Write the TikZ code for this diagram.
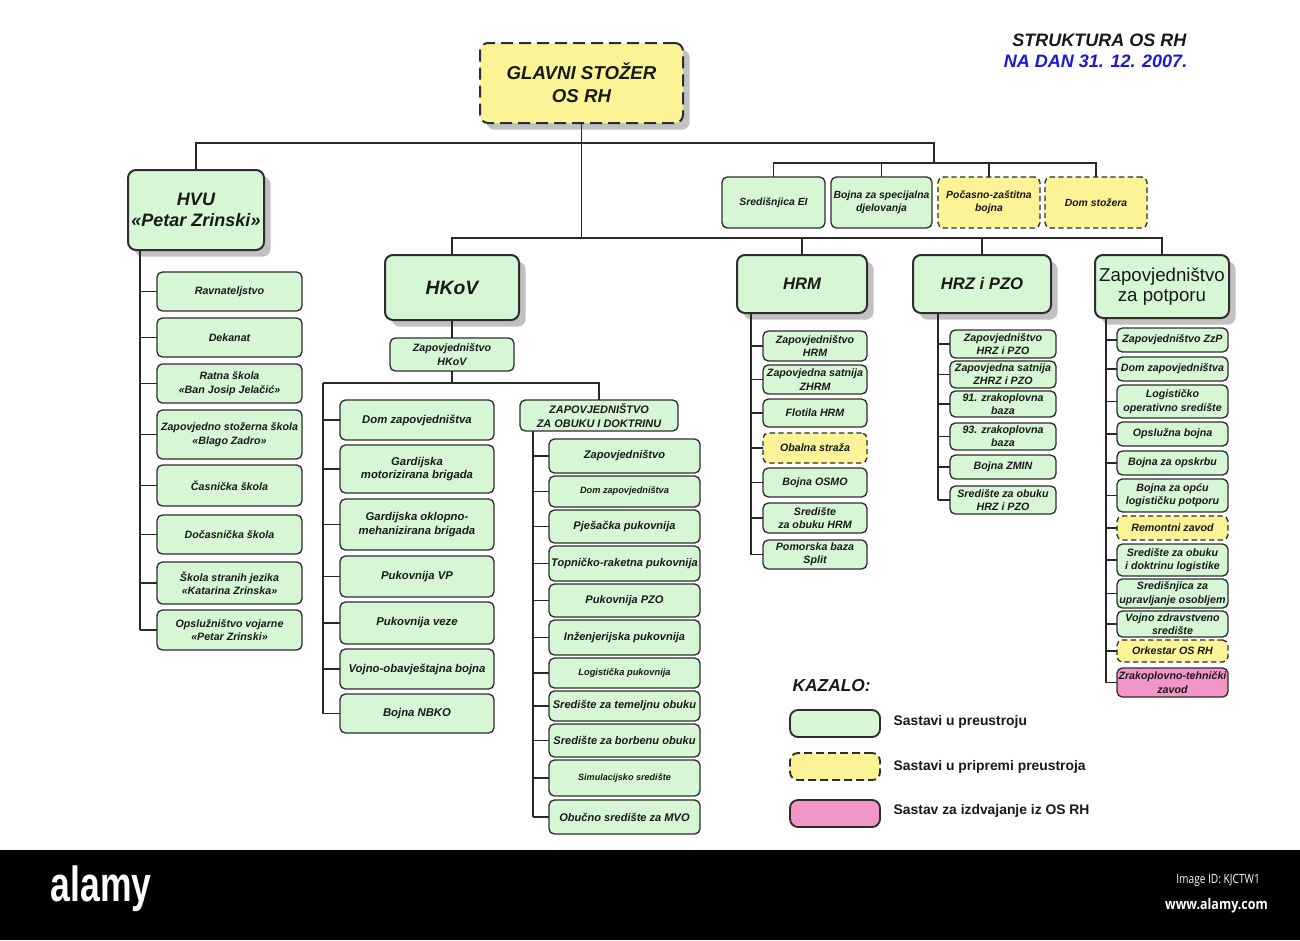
\documentclass[tikz,border=0pt]{standalone}
\usepackage{fontspec}
\setmainfont{Liberation Sans}
\newfontfamily\opensans{Open Sans}
\usetikzlibrary{shadows}
\definecolor{gfill}{RGB}{214,246,214}
\definecolor{yfill}{RGB}{250,244,150}
\definecolor{pfill}{RGB}{242,150,200}
\definecolor{bdc}{RGB}{45,45,45}
\definecolor{lnc}{RGB}{40,40,40}
\definecolor{txc}{RGB}{25,25,25}
\definecolor{tblue}{RGB}{25,25,215}
\newcommand{\obox}[7]{\node[#6, minimum width={(#4-#2)*0.75pt}, minimum height={(#5-#3)*0.75pt}] (#1) at ({(#2+#4)/2},{(#3+#5)/2}) {#7};}
\newcommand{\fsz}[1]{\bfseries\itshape\fontsize{#1}{10}\selectfont}
\tikzset{
 conn/.style={draw=lnc, line width=0.9pt},
 sbox/.style={draw=bdc, fill=gfill, rounded corners=4pt, line width=1pt, align=center, inner sep=1pt, outer sep=0pt, text=txc, font=\bfseries\itshape\fontsize{8}{10}\selectfont},
 sy/.style={sbox, fill=yfill, dash pattern=on 4pt off 2.5pt},
 sp/.style={sbox, fill=pfill},
 shad/.style={drop shadow={shadow xshift=5pt, shadow yshift=-5pt, fill=black!30, opacity=0.8}},
 bigbox/.style={sbox, line width=1.5pt, rounded corners=6pt, shad, font=\bfseries\itshape\fontsize{12}{14}\selectfont},
 bigy/.style={bigbox, fill=yfill, dash pattern=on 9pt off 4.5pt},
 legbox/.style={draw=bdc, fill=gfill, rounded corners=6pt, line width=1.4pt, outer sep=0pt},
 legtext/.style={anchor=west, text=txc, font=\bfseries\fontsize{10.4}{12}\selectfont},
}
\begin{document}
\begin{tikzpicture}[x=0.75pt,y=-0.75pt]
\useasboundingbox (0,0) rectangle (1300,940);
\fill[white] (0,0) rectangle (1300,850);
\fill[black] (0,850) rectangle (1300,940);

% title
\node[anchor=east, text=txc, font=\bfseries\itshape\fontsize{13.5}{15}\selectfont] (title1) at (1191,40) {STRUKTURA OS RH};
\node[anchor=east, text=tblue, font=\bfseries\itshape\fontsize{13.5}{15}\selectfont] (title2) at (1192,61) {NA DAN 31. 12. 2007.};

% main boxes
\obox{main}{480}{43}{683}{123}{bigy, font=\bfseries\itshape\fontsize{14}{17}\selectfont}{GLAVNI STOŽER\\OS RH}
\obox{hvu}{128}{170}{264}{250}{bigbox, font=\bfseries\itshape\fontsize{13.5}{16}\selectfont}{HVU\\«Petar Zrinski»}
\obox{hkov}{385}{255}{519}{320}{bigbox, font=\bfseries\itshape\fontsize{14.5}{16}\selectfont}{HKoV}
\obox{hrm}{737}{255}{867}{313}{bigbox, font=\bfseries\itshape\fontsize{12.5}{14}\selectfont}{HRM}
\obox{hrz}{913}{255}{1051}{313}{bigbox, font=\bfseries\itshape\fontsize{12.5}{14}\selectfont}{HRZ i PZO}
\obox{zzp}{1095}{255}{1229}{318}{bigbox, font=\fontsize{14}{15.5}\selectfont}{Zapovjedništvo\\za potporu}

% top right boxes
\obox{ej}{722}{177}{825}{228}{sbox, font=\fsz{7.8}}{Središnjica EI}
\obox{bsd}{831}{177}{932}{228}{sbox, font=\fsz{7.8}}{Bojna za specijalna\\djelovanja}
\obox{pzb}{938}{177}{1040}{228}{sy, font=\fsz{7.8}}{Počasno-zaštitna\\bojna}
\obox{dst}{1045}{177}{1147}{228}{sy, font=\fsz{7.8}}{Dom stožera}

% HVU column
\obox{rav}{157}{272}{302}{311}{sbox}{Ravnateljstvo}
\obox{dek}{157}{318}{302}{357}{sbox}{Dekanat}
\obox{ratna}{157}{364}{302}{403}{sbox}{Ratna škola\\«Ban Josip Jelačić»}
\obox{zss}{157}{410}{302}{459}{sbox}{Zapovjedno stožerna škola\\«Blago Zadro»}
\obox{cas}{157}{465}{302}{506}{sbox}{Časnička škola}
\obox{doc}{157}{515}{302}{554}{sbox}{Dočasnička škola}
\obox{ssj}{157}{562}{302}{604}{sbox}{Škola stranih jezika\\«Katarina Zrinska»}
\obox{ovp}{157}{610}{302}{650}{sbox}{Opslužništvo vojarne\\«Petar Zrinski»}

% HKoV column
\obox{zhk}{390}{338}{514}{371}{sbox}{Zapovjedništvo\\HKoV}
\obox{dzk}{340}{400}{494}{440}{sbox, font=\fsz{8.5}}{Dom zapovjedništva}
\obox{gmb}{340}{445}{494}{493}{sbox, font=\fsz{8.5}}{Gardijska\\motorizirana brigada}
\obox{gomb}{340}{499}{494}{550}{sbox, font=\fsz{8.5}}{Gardijska oklopno-\\mehanizirana brigada}
\obox{pvp}{340}{556}{494}{597}{sbox, font=\fsz{8.5}}{Pukovnija VP}
\obox{pv}{340}{602}{494}{644}{sbox, font=\fsz{8.5}}{Pukovnija veze}
\obox{vob}{340}{649}{494}{689}{sbox, font=\fsz{8.5}}{Vojno-obavještajna bojna}
\obox{nbko}{340}{694}{494}{733}{sbox, font=\fsz{8.5}}{Bojna NBKO}

% ZA OBUKU column
\obox{obuka}{520}{400}{678}{431}{sbox, font=\fsz{8.2}}{ZAPOVJEDNIŠTVO\\ZA OBUKU I DOKTRINU}
\obox{zap}{549}{439}{700}{473}{sbox, font=\fsz{8.3}}{Zapovjedništvo}
\obox{dz2}{549}{476}{700}{507}{sbox, font=\fsz{6.9}}{Dom zapovjedništva}
\obox{pjp}{549}{510}{700}{543}{sbox, font=\fsz{8.3}}{Pješačka pukovnija}
\obox{trp}{549}{546}{700}{581}{sbox, font=\fsz{8.3}}{Topničko-raketna pukovnija}
\obox{ppzo}{549}{584}{700}{617}{sbox, font=\fsz{8.3}}{Pukovnija PZO}
\obox{inz}{549}{620}{700}{655}{sbox, font=\fsz{8.3}}{Inženjerijska pukovnija}
\obox{logp}{549}{658}{700}{688}{sbox, font=\fsz{7}}{Logistička pukovnija}
\obox{stem}{549}{691}{700}{721}{sbox, font=\fsz{8.3}}{Središte za temeljnu obuku}
\obox{sbor}{549}{724}{700}{757}{sbox, font=\fsz{8.3}}{Središte za borbenu obuku}
\obox{sim}{549}{760}{700}{796}{sbox, font=\fsz{6.8}}{Simulacijsko središte}
\obox{mvo}{549}{800}{700}{834}{sbox, font=\fsz{8.3}}{Obučno središte za MVO}

% HRM column
\obox{zhrm}{763}{331}{867}{361}{sbox}{Zapovjedništvo\\HRM}
\obox{zsat}{763}{365}{867}{394}{sbox}{Zapovjedna satnija\\ZHRM}
\obox{flot}{763}{399}{867}{427}{sbox}{Flotila HRM}
\obox{obs}{763}{433}{867}{463}{sy}{Obalna straža}
\obox{osmo}{763}{468}{867}{497}{sbox}{Bojna OSMO}
\obox{sohrm}{763}{503}{867}{533}{sbox}{Središte\\za obuku HRM}
\obox{pbs}{763}{540}{867}{569}{sbox}{Pomorska baza\\Split}

% HRZ column
\obox{zhrz}{950}{330}{1056}{358}{sbox}{Zapovjedništvo\\HRZ i PZO}
\obox{zsat2}{950}{361}{1056}{388}{sbox}{Zapovjedna satnija\\ZHRZ i PZO}
\obox{z91}{950}{391}{1056}{417}{sbox}{91. zrakoplovna\\baza}
\obox{z93}{950}{423}{1056}{450}{sbox}{93. zrakoplovna\\baza}
\obox{zmin}{950}{455}{1056}{479}{sbox}{Bojna ZMIN}
\obox{sohrz}{950}{486}{1056}{514}{sbox}{Središte za obuku\\HRZ i PZO}

% ZzP column
\obox{zzzp}{1117}{328}{1228}{352}{sbox}{Zapovjedništvo ZzP}
\obox{dz3}{1117}{357}{1228}{381}{sbox}{Dom zapovjedništva}
\obox{los}{1117}{385}{1228}{418}{sbox}{Logističko\\operativno središte}
\obox{opb}{1117}{422}{1228}{446}{sbox}{Opslužna bojna}
\obox{bop}{1117}{451}{1228}{475}{sbox}{Bojna za opskrbu}
\obox{bolp}{1117}{479}{1228}{512}{sbox}{Bojna za opću\\logističku potporu}
\obox{rem}{1117}{516}{1228}{540}{sy}{Remontni zavod}
\obox{sodl}{1117}{544}{1228}{576}{sbox}{Središte za obuku\\i doktrinu logistike}
\obox{suo}{1117}{579}{1228}{608}{sbox}{Središnjica za\\upravljanje osobljem}
\obox{vzs}{1117}{611}{1228}{637}{sbox}{Vojno zdravstveno\\središte}
\obox{ork}{1117}{640}{1228}{662}{sy}{Orkestar OS RH}
\obox{zth}{1117}{668}{1228}{697}{sp}{Zrakoplovno-tehnički\\zavod}

% connectors top level
\coordinate (b1) at (196,143);
\coordinate (b1r) at (934,143);
\coordinate (b1d) at (934,163);
\coordinate (b2) at (580,238);
\draw[conn] (main.south) -- (main.south |- b2);
\draw[conn] (hvu.north) -- (hvu.north |- b1) -- (b1r) -- (b1d);
\draw[conn] (ej.north) -- (ej.north |- b1d) -- (dst.north |- b1d) -- (dst.north);
\draw[conn] (bsd.north) -- (bsd.north |- b1d);
\draw[conn] (pzb.north) -- (pzb.north |- b1d);
\draw[conn] (hkov.north) -- (hkov.north |- b2) -- (zzp.north |- b2) -- (zzp.north);
\draw[conn] (hrm.north) -- (hrm.north |- b2);
\draw[conn] (hrz.north) -- (hrz.north |- b2);

% HVU branches
\coordinate (hv) at (140,250);
\draw[conn] (hv) -- (hv |- ovp.west);
\foreach \n in {rav,dek,ratna,zss,cas,doc,ssj,ovp} \draw[conn] (hv |- \n.west) -- (\n.west);

% HKoV branches
\coordinate (k1) at (323,383);
\draw[conn] (hkov.south) -- (zhk.north);
\draw[conn] (zhk.south) -- (zhk.south |- k1);
\draw[conn] (k1) -- (obuka.north |- k1) -- (obuka.north);
\draw[conn] (k1) -- (k1 |- nbko.west);
\foreach \n in {dzk,gmb,gomb,pvp,pv,vob,nbko} \draw[conn] (k1 |- \n.west) -- (\n.west);

% obuka branches
\coordinate (o1) at (533,431);
\draw[conn] (o1) -- (o1 |- mvo.west);
\foreach \n in {zap,dz2,pjp,trp,ppzo,inz,logp,stem,sbor,sim,mvo} \draw[conn] (o1 |- \n.west) -- (\n.west);

% HRM branches
\coordinate (m1) at (751,313);
\draw[conn] (m1) -- (m1 |- pbs.west);
\foreach \n in {zhrm,zsat,flot,obs,osmo,sohrm,pbs} \draw[conn] (m1 |- \n.west) -- (\n.west);

% HRZ branches
\coordinate (r1) at (938,313);
\draw[conn] (r1) -- (r1 |- sohrz.west);
\foreach \n in {zhrz,zsat2,z91,z93,zmin,sohrz} \draw[conn] (r1 |- \n.west) -- (\n.west);

% ZzP branches
\coordinate (p1) at (1106,318);
\draw[conn] (p1) -- (p1 |- zth.west);
\foreach \n in {zzzp,dz3,los,opb,bop,bolp,rem,sodl,suo,vzs,ork,zth} \draw[conn] (p1 |- \n.west) -- (\n.west);

% legend
\node[anchor=west, text=txc, font=\bfseries\itshape\fontsize{13}{15}\selectfont] (kaz) at (788,686) {KAZALO:};
\obox{lg}{790}{710}{880}{737}{legbox}{}
\obox{ly}{790}{753}{880}{780}{legbox, fill=yfill, dash pattern=on 6pt off 3pt}{}
\obox{lp}{790}{800}{880}{827}{legbox, fill=pfill}{}
\node[legtext] (lgt) at (889,722) {Sastavi u preustroju};
\node[legtext] (lyt) at (889,767) {Sastavi u pripremi preustroja};
\node[legtext] (lpt) at (889,811) {Sastav za izdvajanje iz OS RH};

% bottom band
\node[text=white, font=\bfseries\fontsize{37}{40}\selectfont, xscale=0.72, inner sep=0pt] (alamy) at (101,889) {alamy};
\node[anchor=east, text=white, font=\opensans\fontsize{9.5}{11}\selectfont, xscale=0.8, inner sep=0pt] (imgid) at (1260,880) {Image ID: KJCTW1};
\node[anchor=east, text=white, font=\opensans\bfseries\fontsize{11}{13}\selectfont, xscale=0.85, inner sep=0pt] (www) at (1268,906) {www.alamy.com};
\end{tikzpicture}
\end{document}
